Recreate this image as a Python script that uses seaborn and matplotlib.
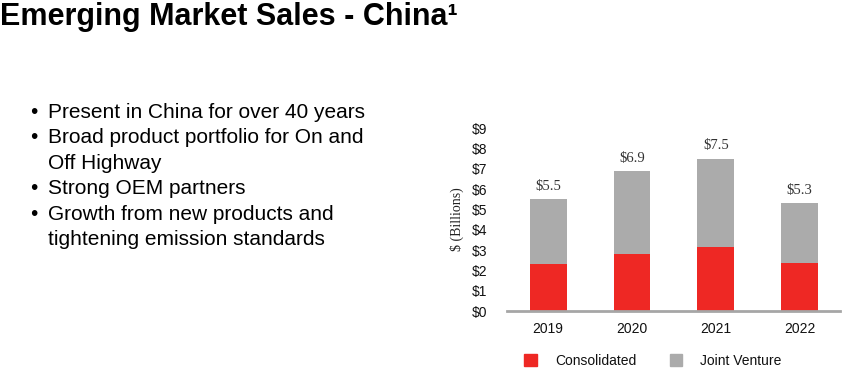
import matplotlib
matplotlib.use("Agg")
import matplotlib.pyplot as plt
from matplotlib.patches import Patch
import seaborn as sns
import pandas as pd

# Data
years = ["2019", "2020", "2021", "2022"]
totals = [5.5, 6.9, 7.5, 5.3]
consolidated = [2.3, 2.8, 3.15, 2.35]
total_labels = ["$5.5", "$6.9", "$7.5", "$5.3"]
y_ticks = [0, 1, 2, 3, 4, 5, 6, 7, 8, 9]

bullets = [
    ["Present in China for over 40 years"],
    ["Broad product portfolio for On and", "Off Highway"],
    ["Strong OEM partners"],
    ["Growth from new products and", "tightening emission standards"],
]

red = "#EE2824"
grey = "#ABABAB"

df = pd.DataFrame({"Year": years, "Total": totals, "Consolidated": consolidated})

sns.set_style("white")
plt.rcParams["font.family"] = ["Liberation Sans", "DejaVu Sans"]
plt.rcParams["text.color"] = "black"

fig = plt.figure(figsize=(8.46, 3.85), dpi=100)

# Title and bullets
fig.text(0.0, 1 - 17 / 385, "Emerging Market Sales - China\u00b9", fontsize=22,
         fontweight="bold", va="center", ha="left", color="black")

line_y = 112
for lines in bullets:
    fig.text(30 / 846, 1 - line_y / 385, "\u2022", fontsize=15, va="center")
    for line in lines:
        fig.text(48 / 846, 1 - line_y / 385, line, fontsize=15, va="center")
        line_y += 25.6

# Chart
ax = fig.add_axes([507 / 846, 1 - 311 / 385, 333 / 846, 183 / 385])
sns.barplot(data=df, x="Year", y="Total", color=grey, width=0.44,
            saturation=1, ax=ax, edgecolor="none")
sns.barplot(data=df, x="Year", y="Consolidated", color=red, width=0.44,
            saturation=1, ax=ax, edgecolor="none")

for i, (v, lab) in enumerate(zip(totals, total_labels)):
    ax.text(i, v + 0.3, lab, ha="center", va="bottom", fontsize=10.5,
            family="Liberation Serif", color="#333333")

ax.set_ylim(0, 9)
ax.set_xlim(-0.49, 3.48)
ax.set_yticks(y_ticks)
ax.set_yticklabels([f"${t}" for t in y_ticks])
ax.tick_params(axis="both", length=0, labelsize=10, colors="#111111")
ax.tick_params(axis="y", pad=14)
ax.tick_params(axis="x", pad=8)
ax.set_xlabel("")
ax.set_ylabel("$ (Billions)", family="Liberation Serif", fontsize=10,
              labelpad=6, color="#222222")
for s in ["top", "right", "left"]:
    ax.spines[s].set_visible(False)
ax.spines["bottom"].set_color("#A6A6A6")
ax.spines["bottom"].set_linewidth(2)

handles = [Patch(color=red, label="Consolidated"),
           Patch(color=grey, label="Joint Venture")]
leg = fig.legend(handles=handles, loc="center",
                 bbox_to_anchor=(653 / 846, 1 - 361 / 385),
                 ncol=2, frameon=False, fontsize=10, handlelength=0.9,
                 handleheight=0.9, handletextpad=1.3, columnspacing=2.4)
for t in leg.get_texts():
    t.set_color("#111111")

fig.savefig("out.png", dpi=100)
